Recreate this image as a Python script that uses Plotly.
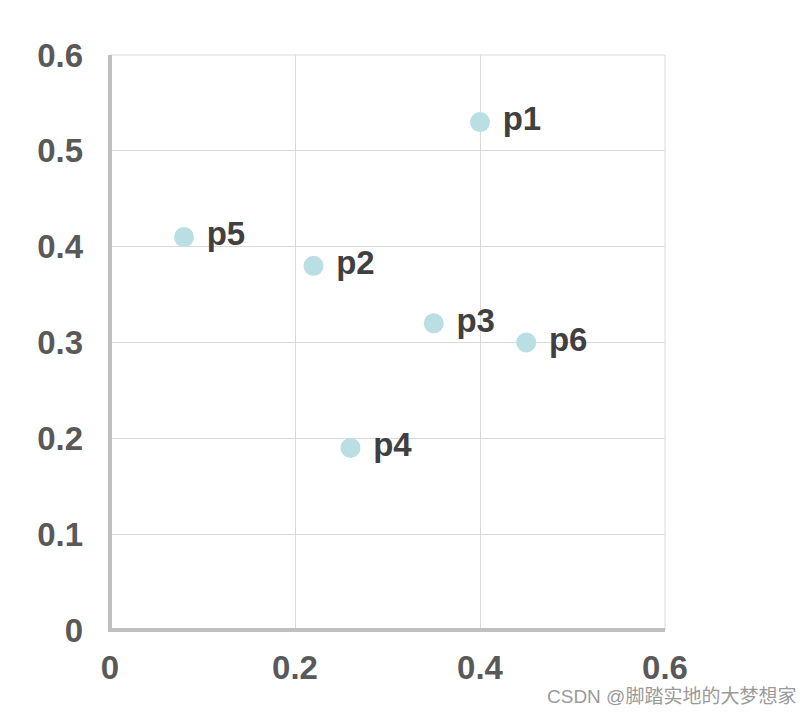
import plotly.graph_objects as go

names = ["p1", "p2", "p3", "p4", "p5", "p6"]
x_vals = [0.40, 0.22, 0.35, 0.26, 0.08, 0.45]
y_vals = [0.53, 0.38, 0.32, 0.19, 0.41, 0.30]

fig = go.Figure()
fig.add_trace(go.Scatter(
    x=x_vals, y=y_vals, mode="markers+text",
    text=[" " + n for n in names], textposition="middle right",
    marker=dict(size=20, color="#b9dfe2"),
    textfont=dict(family="Liberation Sans, Arial, sans-serif", size=33, color="#404040", weight="bold"),
    cliponaxis=False, showlegend=False,
))

axis_common = dict(
    range=[0, 0.6], dtick=0.1, showgrid=True, gridcolor="#d9d9d9", gridwidth=1,
    zeroline=False, showline=False,
    tickfont=dict(family="Liberation Sans, Arial, sans-serif", size=33, color="#595959", weight="bold"),
    ticks="",
)
fig.update_xaxes(**axis_common)
fig.update_xaxes(dtick=0.2, ticklabelstandoff=15)
fig.update_yaxes(**axis_common)
fig.update_yaxes(ticklabelstandoff=26)

# frame: light top/right, thick gray left/bottom
fig.add_shape(type="rect", xref="paper", yref="paper", x0=0, y0=0, x1=1, y1=1,
              line=dict(color="#d9d9d9", width=1), layer="below")
fig.add_shape(type="line", xref="paper", yref="paper", x0=0, y0=-0.003, x1=0, y1=1,
              line=dict(color="#bfbfbf", width=4))
fig.add_shape(type="line", xref="paper", yref="paper", x0=-0.003, y0=0, x1=1, y1=0,
              line=dict(color="#bfbfbf", width=4))

fig.add_annotation(text="CSDN @脚踏实地的大梦想家", xref="paper", yref="paper",
                   x=1.24, y=-0.1165, xanchor="right", yanchor="middle", showarrow=False,
                   font=dict(family="Liberation Sans, Noto Sans CJK SC, sans-serif", size=19, color="#9a9a9a"))

fig.update_layout(
    width=811, height=715,
    margin=dict(l=102, r=154, t=47, b=93, autoexpand=False),
    paper_bgcolor="white", plot_bgcolor="white",
)
fig.write_html("out.html")
